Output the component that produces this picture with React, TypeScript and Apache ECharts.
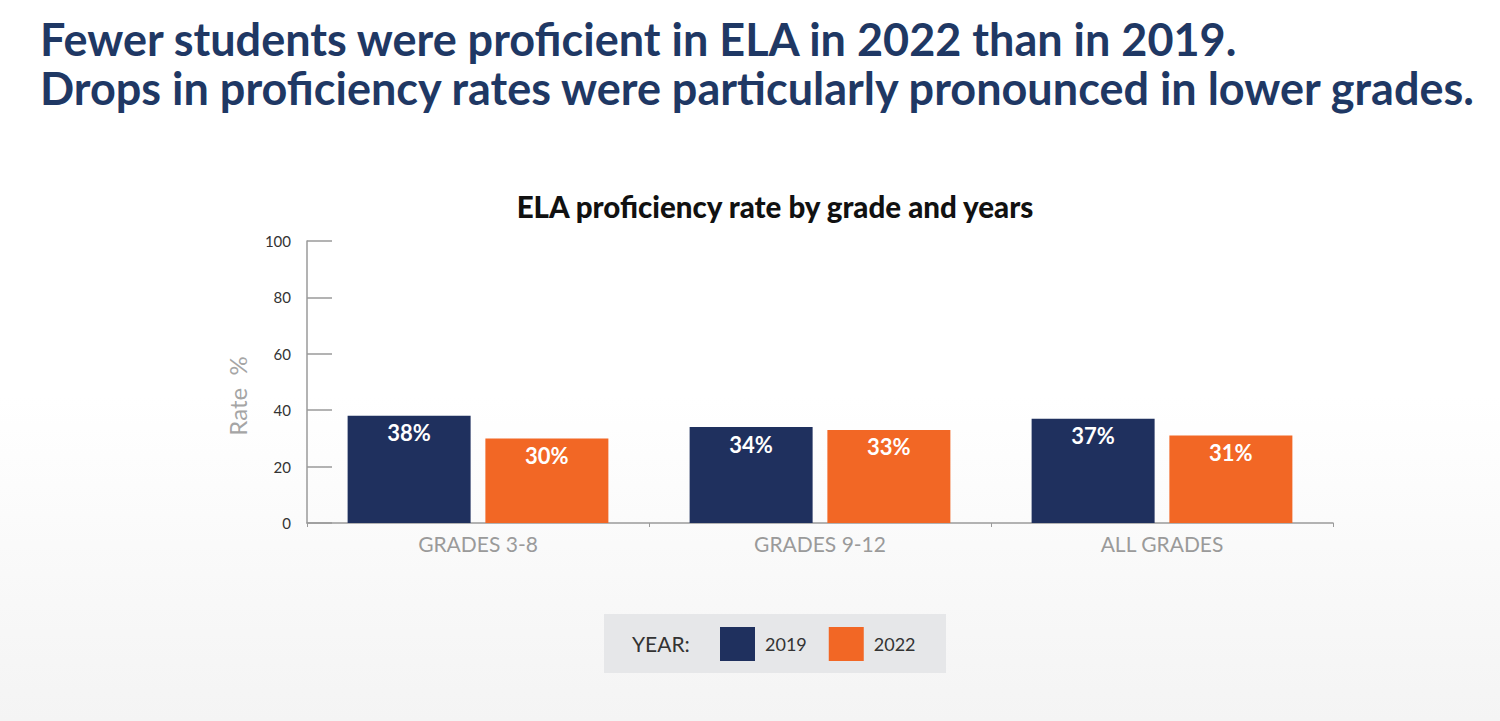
import React, { useEffect, useRef } from "react";
import * as echarts from "echarts";

const categories = ["GRADES 3-8", "GRADES 9-12", "ALL GRADES"];
const years = ["2019", "2022"];
const values2019 = [38, 34, 37];
const values2022 = [30, 33, 31];
const yTicks = [0, 20, 40, 60, 80, 100];
const headline = [
  "Fewer students were proficient in ELA in 2022 than in 2019.",
  "Drops in proficiency rates were particularly pronounced in lower grades.",
];
const chartTitle = "ELA proficiency rate by grade and years";
const yAxisName = "Rate  %";

const BLUE = "#1f305e";
const ORANGE = "#f26725";

export default function App() {
  const ref = useRef<HTMLDivElement>(null);
  useEffect(() => {
    if (!ref.current) return;
    const chart = echarts.init(ref.current, null, { renderer: "svg" });
    const labelStyle = {
      show: true,
      position: "insideTop" as const,
      distance: 6,
      color: "#ffffff",
      fontFamily: "Lato",
      fontWeight: "bold" as const,
      fontSize: 22,
      formatter: (p: any) => p.value + "%",
    };
    chart.setOption({
      animation: false,
      backgroundColor: {
        type: "linear",
        x: 0,
        y: 0,
        x2: 0,
        y2: 1,
        colorStops: [
          { offset: 0, color: "#ffffff" },
          { offset: 0.55, color: "#ffffff" },
          { offset: 1, color: "#f4f4f4" },
        ],
      },
      graphic: [
        {
          type: "text",
          x: 40,
          y: 39,
          style: {
            text: headline[0],
            fill: "#1f3864",
            fontFamily: "Lato",
            fontWeight: "bold",
            fontSize: 45,
            textVerticalAlign: "middle",
          },
        },
        {
          type: "text",
          x: 40,
          y: 88,
          style: {
            text: headline[1],
            fill: "#1f3864",
            fontFamily: "Lato",
            fontWeight: "bold",
            fontSize: 45,
            textVerticalAlign: "middle",
          },
        },
        {
          type: "text",
          x: 775,
          y: 206,
          style: {
            text: chartTitle,
            fill: "#111111",
            fontFamily: "Lato",
            fontWeight: 900,
            fontSize: 29.5,
            textAlign: "center",
            textVerticalAlign: "middle",
          },
        },
        {
          type: "text",
          x: 237,
          y: 396,
          rotation: Math.PI / 2,
          style: {
            text: yAxisName,
            fill: "#a5a5a5",
            fontFamily: "Lato",
            fontSize: 24,
            textAlign: "center",
            textVerticalAlign: "middle",
          },
        },
        {
          type: "rect",
          shape: { x: 604, y: 614, width: 342, height: 59 },
          style: { fill: "#e6e7e9" },
          z: -1,
        },
        {
          type: "text",
          x: 632,
          y: 643,
          style: {
            text: "YEAR:",
            fill: "#333333",
            fontFamily: "Lato",
            fontSize: 21,
            textVerticalAlign: "middle",
          },
        },
      ],
      legend: {
        left: 720,
        top: 627,
        padding: 0,
        itemWidth: 35,
        itemHeight: 34,
        itemGap: 22,
        icon: "rect",
        data: years,
        textStyle: { color: "#333333", fontFamily: "Lato", fontSize: 18, padding: [0, 0, 0, 5] },
      },
      grid: { left: 307, right: 167, top: 241, bottom: 198 },
      xAxis: {
        type: "category",
        data: categories,
        axisLine: { lineStyle: { color: "#9a9a9a", width: 1.5 } },
        axisTick: { show: true, length: 4, lineStyle: { color: "#9a9a9a" } },
        axisLabel: { color: "#9a9a9a", fontFamily: "Lato", fontSize: 21, margin: 10 },
      },
      yAxis: {
        type: "value",
        min: yTicks[0],
        max: yTicks[yTicks.length - 1],
        interval: 20,
        axisLine: { show: true, lineStyle: { color: "#9a9a9a", width: 1.5 } },
        axisTick: { show: true, inside: true, length: 25, lineStyle: { color: "#9a9a9a", width: 1.5 } },
        axisLabel: { color: "#333333", fontFamily: "Lato", fontSize: 15, margin: 16 },
        splitLine: { show: false },
      },
      series: [
        {
          name: years[0],
          type: "bar",
          data: values2019,
          barWidth: 123,
          barGap: "12%",
          itemStyle: { color: BLUE },
          label: labelStyle,
        },
        {
          name: years[1],
          type: "bar",
          data: values2022,
          barWidth: 123,
          itemStyle: { color: ORANGE },
          label: labelStyle,
        },
      ],
    });
    return () => chart.dispose();
  }, []);
  return (
    <div
      ref={ref}
      style={{ position: "fixed", left: 0, top: 0, width: 1500, height: 721 }}
    />
  );
}
